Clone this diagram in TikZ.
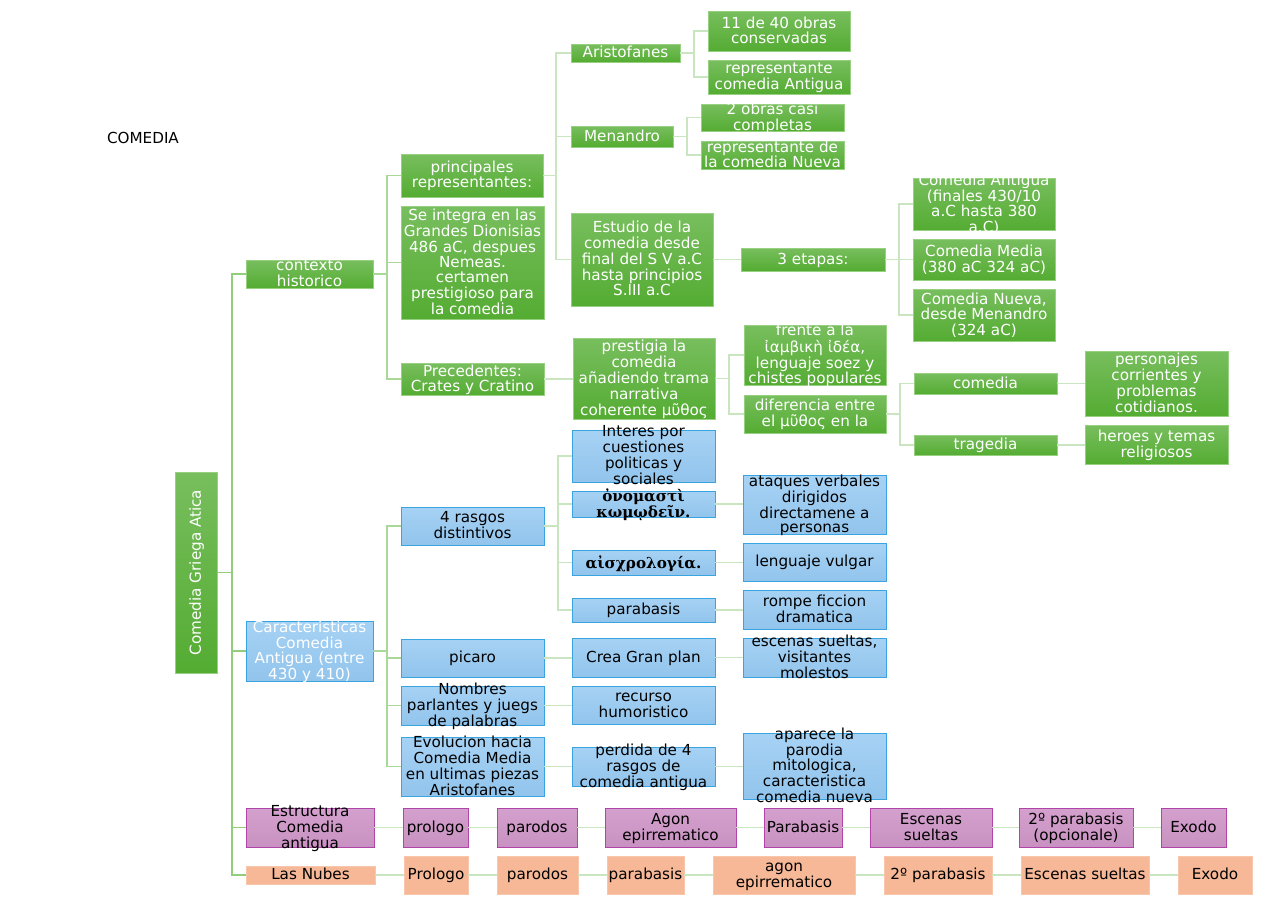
\documentclass[tikz,border=0pt]{standalone}
\usepackage{fontspec}
\setmainfont{DejaVu Sans}
\newfontfamily\grbf{DejaVu Serif}
\definecolor{gtop}{RGB}{120,190,94}
\definecolor{gbot}{RGB}{84,172,50}
\definecolor{gbrd}{RGB}{150,208,128}
\definecolor{btop}{RGB}{166,210,244}
\definecolor{bbot}{RGB}{146,196,236}
\definecolor{bbrd}{RGB}{58,164,224}
\definecolor{ptop}{RGB}{212,160,205}
\definecolor{pbot}{RGB}{200,145,193}
\definecolor{pbrd}{RGB}{176,68,168}
\definecolor{sfill}{RGB}{246,184,150}
\definecolor{sbrd}{RGB}{248,198,170}
\definecolor{lnc}{RGB}{202,230,192}
\definecolor{mdc}{RGB}{170,216,152}
\definecolor{trc}{RGB}{145,206,124}
\newsavebox\tbox
\newcommand\ctr[1]{\sbox\tbox{\begin{tabular}{@{}c@{}}#1\end{tabular}}%
  \makebox[0pt]{\raisebox{\dimexpr-0.5\ht\tbox+0.5\dp\tbox-1.3pt\relax}[0pt][0pt]{\usebox\tbox}}}
\newcommand\bx[7]{%
  \pgfmathsetmacro\bw{#5-#3}\pgfmathsetmacro\bh{#6-#4}%
  \pgfmathsetmacro\bcx{(#3+#5)/2}\pgfmathsetmacro\bcy{(#4+#6)/2}%
  \node[#2,minimum width=\bw pt,minimum height=\bh pt] (#1) at (\bcx,\bcy) {\ctr{#7}};}
\begin{document}
\begin{tikzpicture}[x=1pt,y=-1pt,
  every node/.style={inner sep=0pt,outer sep=0pt,font=\fontsize{15.2}{14.3}\selectfont},
  gbox/.style={top color=gtop,bottom color=gbot,draw=gbrd,line width=0.8pt,text=white},
  bbox/.style={top color=btop,bottom color=bbot,draw=bbrd,line width=0.9pt,text=black},
  pbox/.style={top color=ptop,bottom color=pbot,draw=pbrd,line width=0.9pt,text=black},
  sbox/.style={fill=sfill,draw=sbrd,line width=0.6pt,text=black},
  ln/.style={draw=lnc,line width=1.1pt},
  md/.style={draw=mdc,line width=1.2pt},
  tr/.style={draw=trc,line width=1.3pt},
  grk/.style={font=\grbf\bfseries\fontsize{15.2}{14.3}\selectfont}]
\useasboundingbox (0,0) rectangle (1280,905);
\fill[white] (0,0) rectangle (1280,905);

\node[anchor=base west,text=black] (title) at (107,143) {COMEDIA};

% root
\node[gbox,rotate=90,minimum width=201pt,minimum height=42pt] (root) at (196,572.5) {\ctr{Comedia Griega Atica}};

% level 1
\bx{ctx}{gbox}{246}{260}{373}{288}{contexto\\historico}
\bx{carac}{bbox,text=white}{246}{621}{373}{681}{Caracteristicas\\Comedia\\Antigua (entre\\430 y 410)}
\bx{estr}{pbox}{246}{808}{374}{847}{Estructura\\Comedia\\antigua}
\bx{nubes}{sbox}{246}{866}{375}{884}{Las Nubes}

% contexto branch
\bx{princ}{gbox}{401}{154}{543}{197}{principales\\representantes:}
\bx{integra}{gbox}{401}{206}{544}{319}{Se integra en las\\Grandes Dionisias\\486 aC, despues\\Nemeas.\\certamen\\prestigioso para\\la comedia}
\bx{prec}{gbox}{401}{363}{544}{395}{Precedentes:\\Crates y Cratino}
\bx{arist}{gbox}{571}{44}{680}{62}{Aristofanes}
\bx{menan}{gbox}{571}{126}{673}{147}{Menandro}
\bx{estud}{gbox}{571}{213}{713}{306}{Estudio de la\\comedia desde\\final del S V a.C\\hasta principios\\S.III a.C}
\bx{once}{gbox}{708}{11}{850}{51}{11 de 40 obras\\conservadas}
\bx{repA}{gbox}{708}{60}{850}{94}{representante\\comedia Antigua}
\bx{dos}{gbox}{701}{104}{844}{131}{2 obras casi\\completas}
\bx{repN}{gbox}{701}{141}{844}{169}{representante de\\la comedia Nueva}
\bx{etapas}{gbox}{741}{248}{885}{271}{3 etapas:}
\bx{cAnt}{gbox}{913}{178}{1055}{230}{Comedia Antigua\\(finales 430/10\\a.C hasta 380\\a.C)}
\bx{cMed}{gbox}{913}{239}{1055}{280}{Comedia Media\\(380 aC 324 aC)}
\bx{cNue}{gbox}{913}{289}{1055}{341}{Comedia Nueva,\\desde Menandro\\(324 aC)}
\bx{prest}{gbox}{573}{338}{715}{419}{prestigia la\\comedia\\añadiendo trama\\narrativa\\coherente μῦθος}
\bx{frente}{gbox}{744}{325}{886}{385}{frente a la\\ἰαμβικὴ ἰδέα,\\lenguaje soez y\\chistes populares}
\bx{difer}{gbox}{744}{395}{886}{433}{diferencia entre\\el μῦθος en la}
\bx{comd}{gbox}{914}{373}{1057}{394}{comedia}
\bx{trag}{gbox}{914}{435}{1057}{455}{tragedia}
\bx{pers}{gbox}{1085}{351}{1228}{416}{personajes\\corrientes y\\problemas\\cotidianos.}
\bx{heroes}{gbox}{1085}{425}{1228}{464}{heroes y temas\\religiosos}

% caracteristicas branch
\bx{rasgos}{bbox}{401}{507}{544}{545}{4 rasgos\\distintivos}
\bx{picaro}{bbox}{401}{639}{544}{677}{picaro}
\bx{nombres}{bbox}{401}{686}{544}{725}{Nombres\\parlantes y juegs\\de palabras}
\bx{evol}{bbox}{401}{737}{544}{796}{Evolucion hacia\\Comedia Media\\en ultimas piezas\\Aristofanes}
\bx{interes}{bbox}{572}{430}{715}{482}{Interes por\\cuestiones\\politicas y\\sociales}
\bx{onom}{bbox,grk}{572}{491}{715}{517}{ὀνομαστὶ\\κωμῳδεῖν.}
\bx{aisch}{bbox,grk}{572}{550}{715}{575}{αἰσχρολογία.}
\bx{parab}{bbox}{572}{598}{715}{622}{parabasis}
\bx{ataq}{bbox}{743}{475}{886}{534}{ataques verbales\\dirigidos\\directamene a\\personas}
\bx{leng}{bbox}{743}{543}{886}{581}{lenguaje vulgar}
\bx{rompe}{bbox}{743}{590}{886}{629}{rompe ficcion\\dramatica}
\bx{crea}{bbox}{572}{638}{715}{677}{Crea Gran plan}
\bx{escn}{bbox}{743}{638}{886}{677}{escenas sueltas,\\visitantes\\molestos}
\bx{recur}{bbox}{572}{686}{715}{724}{recurso\\humoristico}
\bx{perd}{bbox}{572}{747}{715}{786}{perdida de 4\\rasgos de\\comedia antigua}
\bx{apar}{bbox}{743}{733}{886}{799}{aparece la\\parodia\\mitologica,\\caracteristica\\comedia nueva}

% estructura row
\bx{pa}{pbox}{403}{808}{468}{847}{prologo}
\bx{pb}{pbox}{497}{808}{577}{847}{parodos}
\bx{pc}{pbox}{605}{808}{736}{847}{Agon\\epirrematico}
\bx{pd}{pbox}{764}{808}{842}{847}{Parabasis}
\bx{pe}{pbox}{870}{808}{992}{847}{Escenas\\sueltas}
\bx{pf}{pbox}{1019}{808}{1133}{847}{2º parabasis\\(opcionale)}
\bx{pg}{pbox}{1161}{808}{1226}{847}{Exodo}

% las nubes row
\bx{sa}{sbox}{404}{856}{468}{894}{Prologo}
\bx{sb}{sbox}{497}{856}{578}{894}{parodos}
\bx{sc}{sbox}{607}{856}{684}{894}{parabasis}
\bx{sd}{sbox}{713}{856}{855}{894}{agon\\epirrematico}
\bx{se}{sbox}{884}{856}{992}{894}{2º parabasis}
\bx{sf}{sbox}{1021}{856}{1149}{894}{Escenas sueltas}
\bx{sg}{sbox}{1178}{856}{1252}{894}{Exodo}

% connectors
\draw[tr] (root.south) -- ++(15,0) coordinate (tk);
\foreach \c in {ctx,carac,estr,nubes} \draw[tr] (tk) |- (\c.west);
\foreach \c in {princ,integra,prec} \draw[md] (ctx.east) -- ++(14,0) |- (\c.west);
\foreach \c in {rasgos,picaro,nombres,evol} \draw[md] (carac.east) -- ++(14,0) |- (\c.west);
\foreach \c in {arist,menan,estud} \draw[ln] (princ.east) -- ++(13,0) |- (\c.west);
\foreach \c in {once,repA} \draw[ln] (arist.east) -- ++(14,0) |- (\c.west);
\foreach \c in {dos,repN} \draw[ln] (menan.east) -- ++(14,0) |- (\c.west);
\draw[ln] (estud.east) -- (estud.east -| etapas.west);
\foreach \c in {cAnt,cMed,cNue} \draw[ln] (etapas.east) -- ++(14,0) |- (\c.west);
\draw[ln] (prec.east) -- (prec.east -| prest.west);
\foreach \c in {frente,difer} \draw[ln] (prest.east) -- ++(14,0) |- (\c.west);
\foreach \c in {comd,trag} \draw[ln] (difer.east) -- ++(14,0) |- (\c.west);
\draw[ln] (comd.east) -- (comd.east -| pers.west);
\draw[ln] (trag.east) -- (trag.east -| heroes.west);
\foreach \c in {interes,onom,aisch,parab} \draw[ln] (rasgos.east) -- ++(14,0) |- (\c.west);
\draw[ln] (onom.east) -- (onom.east -| ataq.west);
\draw[ln] (aisch.east) -- (aisch.east -| leng.west);
\draw[ln] (parab.east) -- (parab.east -| rompe.west);
\draw[ln] (picaro.east) -- (picaro.east -| crea.west);
\draw[ln] (crea.east) -- (crea.east -| escn.west);
\draw[ln] (nombres.east) -- (nombres.east -| recur.west);
\draw[ln] (evol.east) -- (evol.east -| perd.west);
\draw[ln] (perd.east) -- (perd.east -| apar.west);
\draw[ln] (estr.east) -- (pa.west);
\draw[ln] (pa.east) -- (pb.west);
\draw[ln] (pb.east) -- (pc.west);
\draw[ln] (pc.east) -- (pd.west);
\draw[ln] (pd.east) -- (pe.west);
\draw[ln] (pe.east) -- (pf.west);
\draw[ln] (pf.east) -- (pg.west);
\draw[ln] (nubes.east) -- (sa.west);
\draw[ln] (sa.east) -- (sb.west);
\draw[ln] (sb.east) -- (sc.west);
\draw[ln] (sc.east) -- (sd.west);
\draw[ln] (sd.east) -- (se.west);
\draw[ln] (se.east) -- (sf.west);
\draw[ln] (sf.east) -- (sg.west);
\end{tikzpicture}
\end{document}
